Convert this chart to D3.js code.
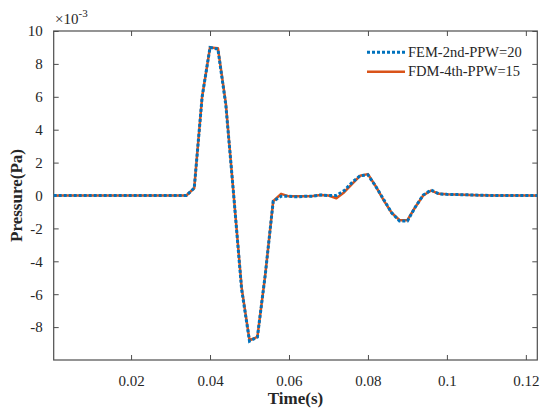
<!DOCTYPE html>
<html>
<head>
<meta charset="utf-8">
<script src="https://cdn.jsdelivr.net/npm/d3@7"></script>
<style>
  body { margin: 0; background: #fff; }
  text { font-family: "Liberation Serif", "Times New Roman", serif; fill: #262626; }
</style>
</head>
<body>
<svg id="myPlot" width="550" height="413"></svg>

<script>
// Data (pressure in units of 1e-3 Pa)
const time = [0.0004, 0.034, 0.036, 0.038, 0.040, 0.042, 0.044, 0.046, 0.048, 0.050,
  0.052, 0.054, 0.056, 0.058, 0.060, 0.062, 0.064, 0.066, 0.068, 0.070,
  0.072, 0.074, 0.076, 0.078, 0.080, 0.082, 0.084, 0.086, 0.088, 0.090,
  0.092, 0.094, 0.096, 0.098, 0.100, 0.104, 0.108, 0.112, 0.116, 0.120, 0.1229];

const femPressure = [0, 0, 0.45, 6.0, 9.0, 8.9, 5.5, 0.0, -5.7, -8.85,
  -8.6, -4.8, -0.35, -0.05, -0.05, -0.08, -0.05, -0.05, 0.03, 0.0,
  0.0, 0.3, 0.8, 1.2, 1.25, 0.55, -0.25, -1.05, -1.55, -1.55,
  -0.7, 0.03, 0.33, 0.1, 0.07, 0.05, 0.02, 0.0, 0.0, 0.0, 0.0];

const fdmPressure = [0, 0, 0.45, 6.0, 9.0, 8.95, 5.6, 0.0, -5.6, -8.8,
  -8.6, -4.8, -0.35, 0.1, -0.05, -0.05, -0.05, -0.03, 0.03, 0.0,
  -0.17, 0.2, 0.7, 1.2, 1.3, 0.55, -0.3, -1.05, -1.5, -1.5,
  -0.7, 0.0, 0.3, 0.1, 0.07, 0.05, 0.02, 0.0, 0.0, 0.0, 0.0];

const seriesNames = ["FEM-2nd-PPW=20", "FDM-4th-PPW=15"];
const xTicks = [0.02, 0.04, 0.06, 0.08, 0.1, 0.12];
const yTicks = [-8, -6, -4, -2, 0, 2, 4, 6, 8, 10];

// Dimensions
const plotLeft = 53.7, plotTop = 31, plotRight = 537.3, plotBottom = 360;
const axisColor = "#4d4d4d";

const svg = d3.select("#myPlot");

const xScale = d3.scaleLinear().domain([0.0004, 0.1229]).range([plotLeft, plotRight]);
const yScale = d3.scaleLinear().domain([-10, 10]).range([plotBottom, plotTop]);

function styleAxis(g) {
  g.select(".domain").remove();
  g.selectAll(".tick line").attr("stroke", axisColor);
  g.selectAll(".tick text").attr("font-size", "15px").style("font-family", '"Liberation Serif", serif').attr("fill", "#262626");
}

// X axis (bottom, labelled)
svg.append("g")
  .attr("transform", "translate(0," + plotBottom + ")")
  .call(d3.axisBottom(xScale).tickValues(xTicks).tickSizeInner(-5).tickSizeOuter(0)
    .tickPadding(15).tickFormat(d => String(d)))
  .call(styleAxis);

// top ticks
svg.append("g")
  .attr("transform", "translate(0," + plotTop + ")")
  .call(d3.axisTop(xScale).tickValues(xTicks).tickSizeInner(-5).tickSizeOuter(0).tickFormat(""))
  .call(styleAxis);

// Y axis (left, labelled)
svg.append("g")
  .attr("transform", "translate(" + plotLeft + ",0)")
  .call(d3.axisLeft(yScale).tickValues(yTicks).tickSizeInner(-5).tickSizeOuter(0)
    .tickPadding(11).tickFormat(d => String(d)))
  .call(styleAxis);

// right ticks
svg.append("g")
  .attr("transform", "translate(" + plotRight + ",0)")
  .call(d3.axisRight(yScale).tickValues(yTicks).tickSizeInner(-5).tickSizeOuter(0).tickFormat(""))
  .call(styleAxis);

// frame
svg.append("rect")
  .attr("x", plotLeft).attr("y", plotTop)
  .attr("width", plotRight - plotLeft).attr("height", plotBottom - plotTop)
  .attr("fill", "none").attr("stroke", axisColor).attr("stroke-width", 1.2);

// Lines
const line = d3.line()
  .x((d, i) => xScale(time[i]))
  .y(d => yScale(d));

svg.append("path")
  .datum(fdmPressure)
  .attr("d", line)
  .attr("fill", "none")
  .attr("stroke", "#D95319")
  .attr("stroke-width", 2.5)
  .attr("stroke-linejoin", "round");

svg.append("path")
  .datum(femPressure)
  .attr("d", line)
  .attr("fill", "none")
  .attr("stroke", "#0072BD")
  .attr("stroke-width", 3)
  .attr("stroke-dasharray", "3,2");

// Exponent label
const expo = svg.append("text")
  .attr("x", 55).attr("y", 24)
  .attr("font-size", "15px");
expo.append("tspan").text("×10");
expo.append("tspan").attr("dy", -7).attr("font-size", "11px").text("-3");

// Axis titles
svg.append("text")
  .attr("x", (plotLeft + plotRight) / 2).attr("y", 404)
  .attr("text-anchor", "middle")
  .attr("font-size", "17px").attr("font-weight", "bold")
  .text("Time(s)");

svg.append("text")
  .attr("transform", "translate(22," + ((plotTop + plotBottom) / 2) + ") rotate(-90)")
  .attr("text-anchor", "middle")
  .attr("font-size", "17px").attr("font-weight", "bold")
  .text("Pressure(Pa)");

// Legend
const legend = svg.append("g");
const legendStyles = [
  { color: "#0072BD", width: 3, dash: "3,2", y: 52.3 },
  { color: "#D95319", width: 2.5, dash: null, y: 71.7 }
];
seriesNames.forEach((name, i) => {
  const s = legendStyles[i];
  legend.append("line")
    .attr("x1", 367).attr("x2", 405)
    .attr("y1", s.y).attr("y2", s.y)
    .attr("stroke", s.color)
    .attr("stroke-width", s.width)
    .attr("stroke-dasharray", s.dash);
  legend.append("text")
    .attr("x", 408).attr("y", s.y + 4.5)
    .attr("font-size", "14.5px")
    .text(name);
});
</script>
</body>
</html>
